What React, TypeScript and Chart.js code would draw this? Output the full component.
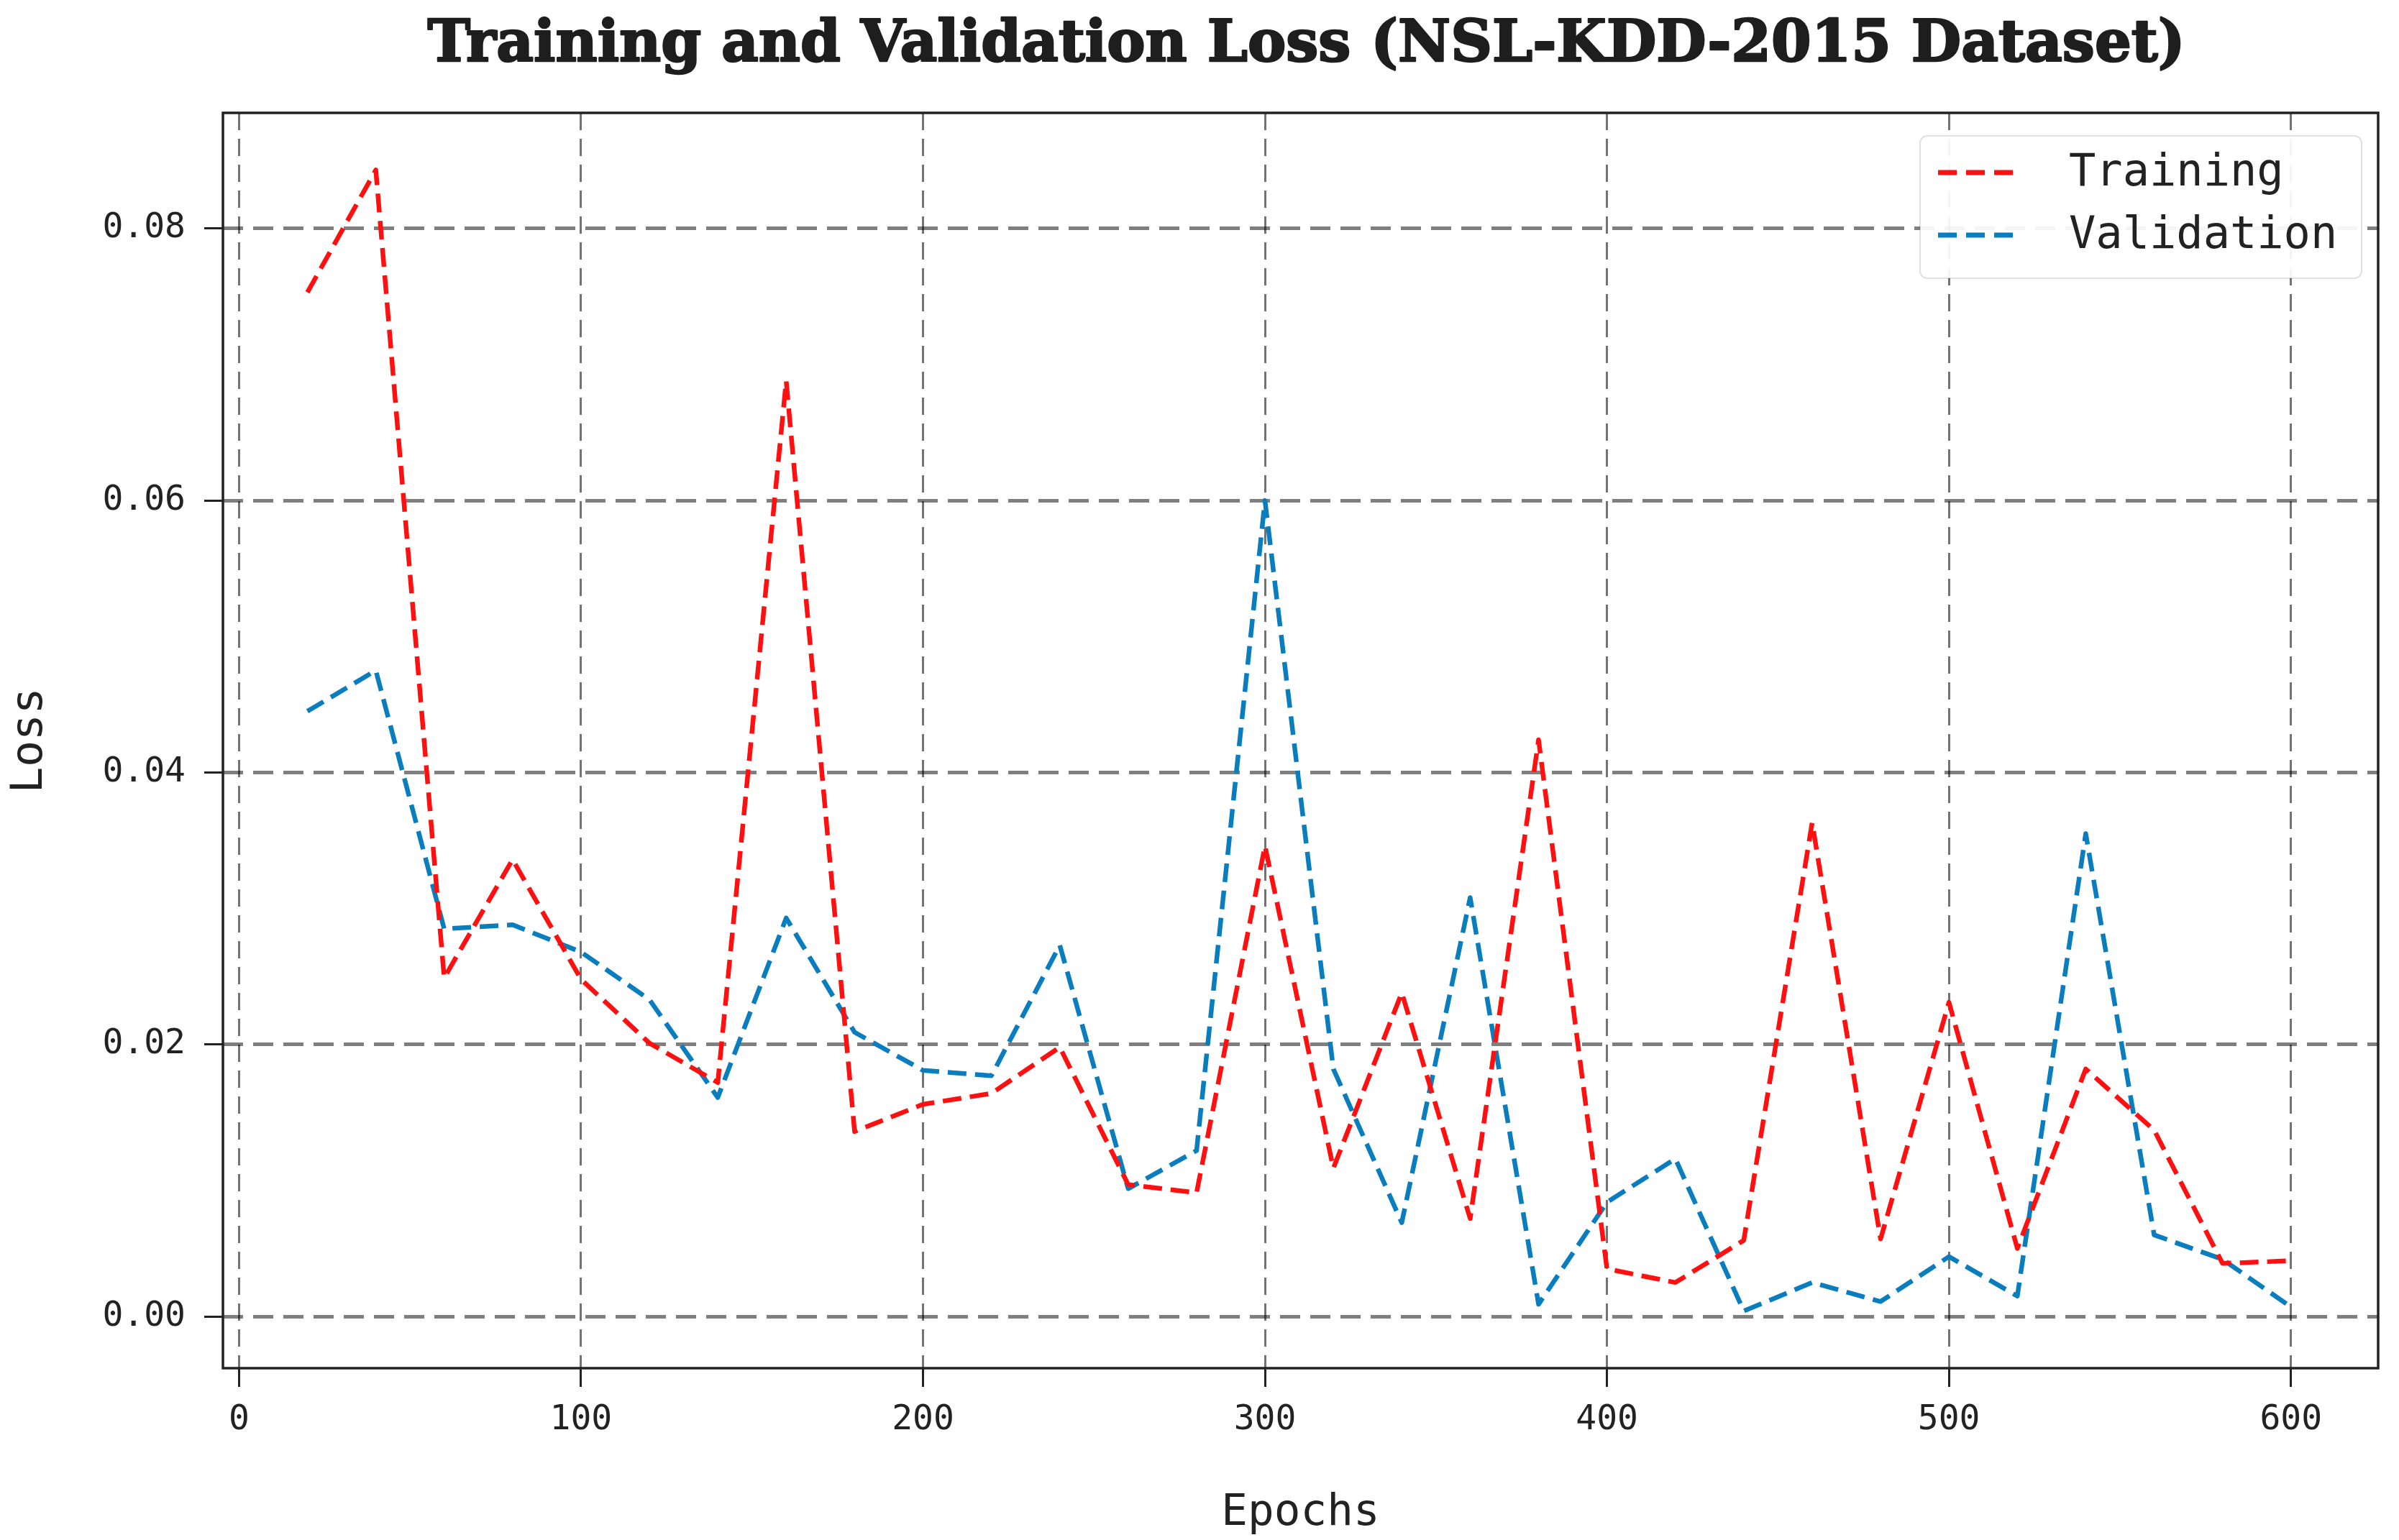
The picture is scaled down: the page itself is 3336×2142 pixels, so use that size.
import React, { useEffect, useRef } from "react";
import { Chart, registerables } from "chart.js";

Chart.register(...registerables);

const epochs = [20, 40, 60, 80, 100, 120, 140, 160, 180, 200, 220, 240, 260, 280, 300, 320, 340, 360, 380, 400, 420, 440, 460, 480, 500, 520, 540, 560, 580, 600];
const trainingLoss = [0.0753, 0.0843, 0.0249, 0.0336, 0.0248, 0.0201, 0.0172, 0.0688, 0.0136, 0.0156, 0.0164, 0.0198, 0.0097, 0.0091, 0.0346, 0.0109, 0.0238, 0.0072, 0.0424, 0.0035, 0.0025, 0.0056, 0.0363, 0.0057, 0.0231, 0.005, 0.0182, 0.0137, 0.0039, 0.0041];
const validationLoss = [0.0445, 0.0475, 0.0285, 0.0288, 0.0268, 0.0233, 0.0161, 0.0293, 0.0209, 0.0181, 0.0177, 0.0273, 0.0094, 0.0122, 0.06, 0.0182, 0.0069, 0.0308, 0.0009, 0.0084, 0.0116, 0.0004, 0.0025, 0.0011, 0.0044, 0.0015, 0.0355, 0.006, 0.0042, 0.0007];
const xTicks = [0, 100, 200, 300, 400, 500, 600];
const yTicks = [0, 0.02, 0.04, 0.06, 0.08];

const TITLE = "Training and Validation Loss (NSL-KDD-2015 Dataset)";
const RED = "#ff1010";
const BLUE = "#0a7dbf";
const MONO = '"DejaVu Sans Mono", monospace';

// frame, title and boxed legend drawn on top of the chart area
const extras = {
  id: "extras",
  afterDraw(chart: any) {
    const { ctx, chartArea: a } = chart;
    ctx.save();
    ctx.strokeStyle = "#222";
    ctx.lineWidth = 3.5;
    ctx.strokeRect(a.left, a.top, a.right - a.left, a.bottom - a.top);

    ctx.fillStyle = "#1e1e1e";
    ctx.strokeStyle = "#1e1e1e";
    ctx.lineWidth = 2.5;
    ctx.lineJoin = "round";
    ctx.font = 'bold 80px "DejaVu Serif", serif';
    ctx.textAlign = "center";
    ctx.textBaseline = "middle";
    const tx = (a.left + a.right) / 2 + 8;
    ctx.fillText(TITLE, tx, 64);
    ctx.strokeText(TITLE, tx, 64);

    const bx = a.right - 637, by = a.top + 32, bw = 614, bh = 198;
    ctx.beginPath();
    ctx.roundRect(bx, by, bw, bh, 10);
    ctx.fillStyle = "rgba(255,255,255,0.92)";
    ctx.fill();
    ctx.strokeStyle = "rgba(0,0,0,0.12)";
    ctx.lineWidth = 2;
    ctx.stroke();

    const items = [
      { label: "Training", color: RED, y: by + 51 },
      { label: "Validation", color: BLUE, y: by + 138 },
    ];
    ctx.font = `62px ${MONO}`;
    ctx.textAlign = "left";
    for (const it of items) {
      ctx.beginPath();
      ctx.setLineDash([26, 13]);
      ctx.strokeStyle = it.color;
      ctx.lineWidth = 7;
      ctx.moveTo(bx + 25, it.y);
      ctx.lineTo(bx + 139, it.y);
      ctx.stroke();
      ctx.setLineDash([]);
      ctx.fillStyle = "#222";
      ctx.fillText(it.label, bx + 207, it.y + 2);
    }
    ctx.restore();
  },
};

export default function App() {
  const ref = useRef<HTMLCanvasElement | null>(null);

  useEffect(() => {
    const ctx = ref.current?.getContext("2d");
    if (!ctx) return;
    const chart = new Chart(ctx, {
      type: "line",
      data: {
        datasets: [
          {
            label: "Training",
            data: epochs.map((e, i) => ({ x: e, y: trainingLoss[i] })),
            borderColor: RED,
            borderWidth: 6.5,
            borderDash: [26, 12],
            borderJoinStyle: "round",
            pointRadius: 0,
            tension: 0,
            fill: false,
          },
          {
            label: "Validation",
            data: epochs.map((e, i) => ({ x: e, y: validationLoss[i] })),
            borderColor: BLUE,
            borderWidth: 6.5,
            borderDash: [26, 12],
            borderJoinStyle: "round",
            pointRadius: 0,
            tension: 0,
            fill: false,
          },
        ],
      },
      options: {
        animation: false,
        responsive: true,
        maintainAspectRatio: false,
        devicePixelRatio: 1,
        layout: { padding: { top: 157, right: 29, left: 0, bottom: 0 } },
        plugins: { legend: { display: false }, title: { display: false }, tooltip: { enabled: false } },
        scales: {
          x: {
            type: "linear",
            min: -4.7,
            max: 625.5,
            afterFit: (s: any) => { s.height = 239; },
            afterBuildTicks: (s: any) => { s.ticks = xTicks.map((v) => ({ value: v })); },
            grid: { color: "rgba(0,0,0,0.55)", lineWidth: 3, tickLength: 26, tickColor: "#222", tickWidth: 3 },
            border: { display: false, dash: [24, 12] },
            ticks: { font: { family: MONO, size: 48 }, color: "#222", padding: 18, maxRotation: 0 },
            title: { display: true, text: "Epochs", font: { family: MONO, size: 61 }, color: "#222", padding: { top: 0, bottom: 0 } },
          },
          y: {
            type: "linear",
            min: -0.0038,
            max: 0.0885,
            afterFit: (s: any) => { s.width = 310; },
            afterBuildTicks: (s: any) => { s.ticks = yTicks.map((v) => ({ value: v })); },
            grid: { color: "rgba(0,0,0,0.5)", lineWidth: 5, tickLength: 26, tickColor: "#222", tickWidth: 3 },
            border: { display: false, dash: [28, 14] },
            ticks: { font: { family: MONO, size: 48 }, color: "#222", padding: 26, callback: (v: any) => Number(v).toFixed(2) },
            title: { display: true, text: "Loss", font: { family: MONO, size: 61 }, color: "#222", padding: { top: 6, bottom: 0 } },
          },
        },
      },
      plugins: [extras],
    });
    return () => chart.destroy();
  }, []);

  return (
    <div style={{ position: "fixed", left: 0, top: 0, width: 3336, height: 2142, background: "#fff" }}>
      <canvas ref={ref} aria-label="Training and validation loss chart" role="img" />
    </div>
  );
}
